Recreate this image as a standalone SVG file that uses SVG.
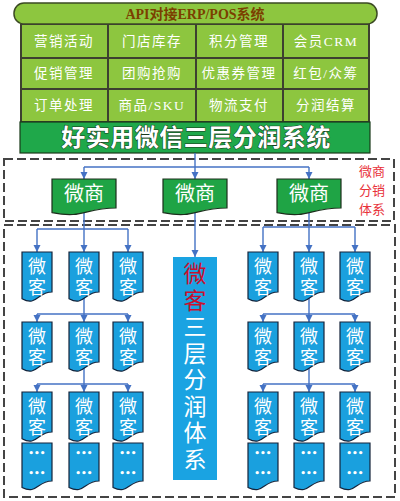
<svg xmlns="http://www.w3.org/2000/svg" width="400" height="501" viewBox="0 0 400 501">
<defs>
<marker id="arr" markerUnits="userSpaceOnUse" markerWidth="8" markerHeight="8" refX="7" refY="4" orient="auto">
<path d="M0,0.5 L7,4 L0,7.5 z" fill="#4472c4"/>
</marker>
<style>
.cell{fill:#8dc63f;}
.ctext{font-family:"Liberation Serif","Noto Sans CJK SC",serif;font-size:13.5px;fill:#ffffff;text-anchor:middle;letter-spacing:1.5px;}
.ws{fill:#1fa445;stroke:#1c2e1c;stroke-width:1.2;}
.wstext{font-family:"Noto Sans CJK SC",sans-serif;font-size:20px;fill:#ffffff;text-anchor:middle;}
.wk{fill:#1aa0de;stroke:#14233a;stroke-width:1.2;}
.wktext{font-family:"Noto Sans CJK SC",sans-serif;font-size:18px;fill:#ffffff;writing-mode:vertical-rl;letter-spacing:3px;}
.dots{font-family:"DejaVu Sans",sans-serif;font-size:9px;fill:#ffffff;text-anchor:middle;font-weight:bold;}
.dash{fill:none;stroke:#444444;stroke-width:2;stroke-dasharray:9,4;}
.conn{fill:none;stroke:#4472c4;stroke-width:1.4;}
.vt{font-family:"Noto Sans CJK SC",sans-serif;font-size:23px;writing-mode:vertical-rl;letter-spacing:3.5px;}
.red{font-family:"Noto Sans CJK SC",sans-serif;font-size:13px;fill:#e8313a;text-anchor:middle;}
</style>
</defs>
<rect width="400" height="501" fill="#ffffff"/>

<!-- dashed frames -->
<rect class="dash" x="4" y="159" width="390" height="62"/>
<rect class="dash" x="4" y="225" width="391" height="272"/>

<!-- API banner -->
<g id="api">
<rect x="14" y="3" width="363" height="21" rx="10" fill="#8dc63f" stroke="#3b4a23" stroke-width="1.5"/>
<text x="195" y="18.5" font-family="Liberation Serif,'Noto Sans CJK SC',serif" font-size="14" font-weight="bold" fill="#7b3f00" text-anchor="middle">API对接ERP/POS系统</text>
</g>

<!-- function grid -->
<g id="grid">
<rect x="20" y="24" width="350" height="98" fill="#3d4030"/>
<rect class="cell" x="22" y="25" width="85" height="32"/>
<rect class="cell" x="109" y="25" width="86" height="32"/>
<rect class="cell" x="197" y="25" width="85" height="32"/>
<rect class="cell" x="284" y="25" width="84" height="32"/>
<rect class="cell" x="22" y="59" width="85" height="29"/>
<rect class="cell" x="109" y="59" width="86" height="29"/>
<rect class="cell" x="197" y="59" width="85" height="29"/>
<rect class="cell" x="284" y="59" width="84" height="29"/>
<rect class="cell" x="22" y="90" width="85" height="31"/>
<rect class="cell" x="109" y="90" width="86" height="31"/>
<rect class="cell" x="197" y="90" width="85" height="31"/>
<rect class="cell" x="284" y="90" width="84" height="31"/>
<text class="ctext" x="64" y="46">营销活动</text>
<text class="ctext" x="152" y="46">门店库存</text>
<text class="ctext" x="239" y="46">积分管理</text>
<text class="ctext" x="326" y="46">会员CRM</text>
<text class="ctext" x="64" y="78">促销管理</text>
<text class="ctext" x="152" y="78">团购抢购</text>
<text class="ctext" x="239" y="78">优惠券管理</text>
<text class="ctext" x="326" y="78">红包/众筹</text>
<text class="ctext" x="64" y="110">订单处理</text>
<text class="ctext" x="152" y="110">商品/SKU</text>
<text class="ctext" x="239" y="110">物流支付</text>
<text class="ctext" x="326" y="110">分润结算</text>
</g>

<!-- title bar -->
<g id="title">
<rect x="20" y="122" width="350" height="31" fill="#1fa84a" stroke="#1a3a1a" stroke-width="1.2"/>
<text x="196" y="146" font-family="'Noto Sans CJK SC',sans-serif" font-size="24" font-weight="bold" fill="#ffffff" stroke="#1a3a1a" stroke-width="1" paint-order="stroke" text-anchor="middle" letter-spacing="0.5">好实用微信三层分润系统</text>
</g>

<!-- connectors -->
<g id="connectors">
<path class="conn" d="M195,153 V179" marker-end="url(#arr)"/>
<path class="conn" d="M84,167 H309"/>
<path class="conn" d="M84,167 V179" marker-end="url(#arr)"/>
<path class="conn" d="M309,167 V179" marker-end="url(#arr)"/>
<path class="conn" d="M195,211 V257" marker-end="url(#arr)"/>
<path class="conn" d="M84,211 V252" marker-end="url(#arr)"/>
<path class="conn" d="M37,229 H128"/>
<path class="conn" d="M37,229 V252" marker-end="url(#arr)"/>
<path class="conn" d="M128,229 V252" marker-end="url(#arr)"/>
<path class="conn" d="M309,208 V252" marker-end="url(#arr)"/>
<path class="conn" d="M263,227 H355"/>
<path class="conn" d="M263,227 V252" marker-end="url(#arr)"/>
<path class="conn" d="M355,227 V252" marker-end="url(#arr)"/>
<path class="conn" d="M84,298 V322" marker-end="url(#arr)"/>
<path class="conn" d="M37,314 H128"/>
<path class="conn" d="M37,314 V322" marker-end="url(#arr)"/>
<path class="conn" d="M128,314 V322" marker-end="url(#arr)"/>
<path class="conn" d="M309,298 V322" marker-end="url(#arr)"/>
<path class="conn" d="M263,314 H355"/>
<path class="conn" d="M263,314 V322" marker-end="url(#arr)"/>
<path class="conn" d="M355,314 V322" marker-end="url(#arr)"/>
<path class="conn" d="M84,368 V392" marker-end="url(#arr)"/>
<path class="conn" d="M37,384 H128"/>
<path class="conn" d="M37,384 V392" marker-end="url(#arr)"/>
<path class="conn" d="M128,384 V392" marker-end="url(#arr)"/>
<path class="conn" d="M309,368 V392" marker-end="url(#arr)"/>
<path class="conn" d="M263,384 H355"/>
<path class="conn" d="M263,384 V392" marker-end="url(#arr)"/>
<path class="conn" d="M355,384 V392" marker-end="url(#arr)"/>
</g>

<!-- 微商 nodes -->
<g id="ws1"><path class="ws" d="M52,179 H116 V208 C84,208 84,219 52,212.6 Z"/><text class="wstext" x="84" y="201">微商</text></g>
<g id="ws2"><path class="ws" d="M163,179 H227 V208 C195,208 195,219 163,212.6 Z"/><text class="wstext" x="195" y="201">微商</text></g>
<g id="ws3"><path class="ws" d="M277,179 H341 V208 C309,208 309,219 277,212.6 Z"/><text class="wstext" x="309" y="201">微商</text></g>

<!-- 微商分销体系 label -->
<g id="label-ws">
<text class="red" x="372" y="176">微商</text>
<text class="red" x="372" y="195">分销</text>
<text class="red" x="372" y="214">体系</text>
</g>

<!-- central rect -->
<g id="center">
<rect x="173" y="257" width="44" height="223" fill="#1aa3e2"/>
<text class="vt" x="195" y="262" fill="#c8102e">微客</text>
<text class="vt" x="195" y="315" fill="#ffffff">三层分润体系</text>
</g>

<!-- 微客 nodes: rows -->
<g id="wk-l1a"><path class="wk" d="M22,252 H52 V292 C37,292 37,307 22,298.7 Z"/><text class="wktext" x="37" y="257">微客</text></g>
<g id="wk-l1b"><path class="wk" d="M69,252 H99 V292 C84,292 84,307 69,298.7 Z"/><text class="wktext" x="84" y="257">微客</text></g>
<g id="wk-l1c"><path class="wk" d="M113,252 H143 V292 C128,292 128,307 113,298.7 Z"/><text class="wktext" x="128" y="257">微客</text></g>
<g id="wk-r1a"><path class="wk" d="M248,252 H278 V292 C263,292 263,307 248,298.7 Z"/><text class="wktext" x="263" y="257">微客</text></g>
<g id="wk-r1b"><path class="wk" d="M294,252 H324 V292 C309,292 309,307 294,298.7 Z"/><text class="wktext" x="309" y="257">微客</text></g>
<g id="wk-r1c"><path class="wk" d="M340,252 H370 V292 C355,292 355,307 340,298.7 Z"/><text class="wktext" x="355" y="257">微客</text></g>

<g id="wk-l2a"><path class="wk" d="M22,322 H52 V362 C37,362 37,377 22,368.7 Z"/><text class="wktext" x="37" y="327">微客</text></g>
<g id="wk-l2b"><path class="wk" d="M69,322 H99 V362 C84,362 84,377 69,368.7 Z"/><text class="wktext" x="84" y="327">微客</text></g>
<g id="wk-l2c"><path class="wk" d="M113,322 H143 V362 C128,362 128,377 113,368.7 Z"/><text class="wktext" x="128" y="327">微客</text></g>
<g id="wk-r2a"><path class="wk" d="M248,322 H278 V362 C263,362 263,377 248,368.7 Z"/><text class="wktext" x="263" y="327">微客</text></g>
<g id="wk-r2b"><path class="wk" d="M294,322 H324 V362 C309,362 309,377 294,368.7 Z"/><text class="wktext" x="309" y="327">微客</text></g>
<g id="wk-r2c"><path class="wk" d="M340,322 H370 V362 C355,362 355,377 340,368.7 Z"/><text class="wktext" x="355" y="327">微客</text></g>

<g id="wk-l3a"><path class="wk" d="M22,392 H52 V432 C37,432 37,447 22,438.7 Z"/><text class="wktext" x="37" y="397">微客</text></g>
<g id="wk-l3b"><path class="wk" d="M69,392 H99 V432 C84,432 84,447 69,438.7 Z"/><text class="wktext" x="84" y="397">微客</text></g>
<g id="wk-l3c"><path class="wk" d="M113,392 H143 V432 C128,432 128,447 113,438.7 Z"/><text class="wktext" x="128" y="397">微客</text></g>
<g id="wk-r3a"><path class="wk" d="M248,392 H278 V432 C263,432 263,447 248,438.7 Z"/><text class="wktext" x="263" y="397">微客</text></g>
<g id="wk-r3b"><path class="wk" d="M294,392 H324 V432 C309,432 309,447 294,438.7 Z"/><text class="wktext" x="309" y="397">微客</text></g>
<g id="wk-r3c"><path class="wk" d="M340,392 H370 V432 C355,432 355,447 340,438.7 Z"/><text class="wktext" x="355" y="397">微客</text></g>

<g id="wk-l4a"><path class="wk" d="M22,443 H52 V481 C37,481 37,495 22,487.5 Z"/><text class="dots" x="37" y="456">•••</text><text class="dots" x="37" y="476">•••</text></g>
<g id="wk-l4b"><path class="wk" d="M69,443 H99 V481 C84,481 84,495 69,487.5 Z"/><text class="dots" x="84" y="456">•••</text><text class="dots" x="84" y="476">•••</text></g>
<g id="wk-l4c"><path class="wk" d="M113,443 H143 V481 C128,481 128,495 113,487.5 Z"/><text class="dots" x="128" y="456">•••</text><text class="dots" x="128" y="476">•••</text></g>
<g id="wk-r4a"><path class="wk" d="M248,443 H278 V481 C263,481 263,495 248,487.5 Z"/><text class="dots" x="263" y="456">•••</text><text class="dots" x="263" y="476">•••</text></g>
<g id="wk-r4b"><path class="wk" d="M294,443 H324 V481 C309,481 309,495 294,487.5 Z"/><text class="dots" x="309" y="456">•••</text><text class="dots" x="309" y="476">•••</text></g>
<g id="wk-r4c"><path class="wk" d="M340,443 H370 V481 C355,481 355,495 340,487.5 Z"/><text class="dots" x="355" y="456">•••</text><text class="dots" x="355" y="476">•••</text></g>
</svg>
